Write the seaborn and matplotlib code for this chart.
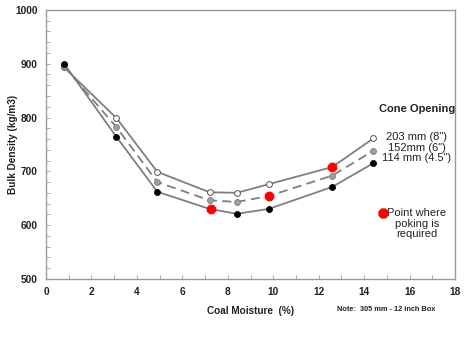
import matplotlib
matplotlib.use("Agg")
import matplotlib.pyplot as plt
import seaborn as sns
import pandas as pd
from matplotlib.ticker import MultipleLocator

moisture = [0.8, 3.1, 4.9, 7.2, 8.4, 9.8, 12.6, 14.4]
density_203 = [893, 799, 699, 661, 660, 676, 708, 761]
density_152 = [895, 782, 680, 646, 643, 654, 692, 738]
density_114 = [900, 764, 662, 630, 621, 630, 671, 715]
poke_x = [7.25, 9.8, 12.6]
poke_y = [630, 654, 708]
series_labels = ['203 mm (8")', '152mm (6")', '114 mm (4.5")']
x_ticks = [0, 2, 4, 6, 8, 10, 12, 14, 16, 18]
y_ticks = [500, 600, 700, 800, 900, 1000]

sns.set_style("white")
plt.rcParams['font.family'] = ['Liberation Sans', 'DejaVu Sans']

fig = plt.figure(figsize=(4.74, 3.43), dpi=100)
ax = fig.add_axes([0.097, 0.187, 0.863, 0.784])

df = pd.DataFrame({
    "moisture": moisture * 3,
    "density": density_203 + density_152 + density_114,
    "series": [series_labels[0]] * len(moisture) + [series_labels[1]] * len(moisture) + [series_labels[2]] * len(moisture),
})

line_col = "#7f7f7f"
styles = {
    series_labels[0]: dict(ls="-", mfc="white", mec="#555555"),
    series_labels[1]: dict(ls=(0, (5, 3)), mfc="#a0a0a0", mec="#808080"),
    series_labels[2]: dict(ls="-", mfc="black", mec="black"),
}
for lab in series_labels:
    sub = df[df["series"] == lab]
    st = styles[lab]
    sns.lineplot(data=sub, x="moisture", y="density", ax=ax, color=line_col,
                 linewidth=1.3, linestyle=st["ls"], marker="o", markersize=4.2,
                 markerfacecolor=st["mfc"], markeredgecolor=st["mec"],
                 markeredgewidth=0.7, legend=False, zorder=3)

sns.scatterplot(x=poke_x, y=poke_y, ax=ax, color="#ff0000", marker="8", s=48,
                edgecolor="#ff0000", linewidth=0.5, zorder=5, legend=False)

ax.set_xlim(x_ticks[0], x_ticks[-1])
ax.set_ylim(y_ticks[0], y_ticks[-1])
ax.set_xticks(x_ticks)
ax.set_yticks(y_ticks)
ax.xaxis.set_minor_locator(MultipleLocator(1))
ax.yaxis.set_minor_locator(MultipleLocator(20))
ax.tick_params(which="both", direction="in", length=3, width=0.7, color="#aaaaaa",
               bottom=True, left=True, top=False, right=False)
ax.tick_params(which="major", labelsize=7.3, pad=6, labelcolor="#222222")
for lbl in ax.get_xticklabels() + ax.get_yticklabels():
    lbl.set_fontweight("bold")
for sp in ax.spines.values():
    sp.set_color("#999999")
    sp.set_linewidth(1.0)

ax.set_xlabel("Coal Moisture  (%)", fontsize=7.2, fontweight="bold", color="#222222", labelpad=6)
ax.set_ylabel("Bulk Density (kg/m3)", fontsize=7.2, fontweight="bold", color="#222222")
ax.yaxis.set_label_coords(-0.068, 0.5)

ax.text(0.907, 0.632, "Cone Opening", transform=ax.transAxes, ha="center", va="center",
        fontsize=8, fontweight="bold", color="#222222")
ax.text(0.907, 0.488, "\n".join(series_labels), transform=ax.transAxes, ha="center",
        va="center", fontsize=8, color="#222222", linespacing=1.05, multialignment="center")

ax.scatter([0.824], [0.245], transform=ax.transAxes, color="#ff0000", marker="8", s=48,
           zorder=5, clip_on=False)
ax.text(0.907, 0.205, "Point where\npoking is\nrequired", transform=ax.transAxes,
        ha="center", va="center", fontsize=8, color="#222222", linespacing=1.05,
        multialignment="center")

fig.text(0.815, 0.098, "Note:  305 mm - 12 inch Box", ha="center", va="center",
         fontsize=5.3, fontweight="bold", color="#222222")

fig.savefig("out.png", dpi=100)
